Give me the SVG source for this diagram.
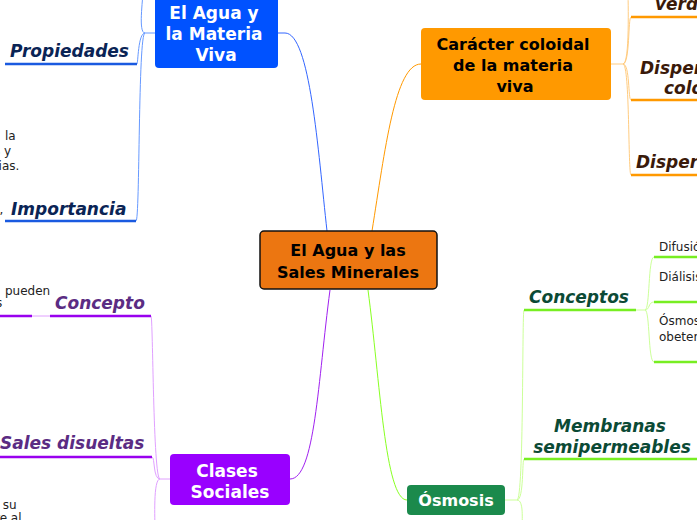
<svg xmlns="http://www.w3.org/2000/svg" width="697" height="520" viewBox="0 0 697 520">
<style>
.t{font-family:"DejaVu Sans",sans-serif;font-weight:bold;text-anchor:middle}
.s{font-family:"DejaVu Sans",sans-serif;font-weight:bold;font-style:italic;font-size:17px}
.n{font-family:"DejaVu Sans",sans-serif;font-size:12px;fill:#222}
.c{fill:none;stroke-width:1}
</style>
<rect width="697" height="520" fill="#fff"/>
<g id="connectors">
<path class="c" stroke="#3366ff" d="M327,231 C318,150 310,33 285,33 L278,33"/>
<path class="c" stroke="#ff9900" d="M372,231 C385,150 395,64 421,64"/>
<path class="c" stroke="#a020f0" d="M330,290 C318,380 315,479 290,479"/>
<path class="c" stroke="#88ff22" d="M368,290 C380,380 385,500 407,500"/>
<path class="c" stroke="#6699ff" d="M155,33 H145 C138,33 143,0 143,-10 M145,33 C138,33 138,64 137,64 M145,33 C138,33 140,221 136,221"/>
<path class="c" stroke="#e0a0ff" d="M170,479 H160 C153,479 153,316 151,316 M160,479 C153,479 155,457 152,457 M160,479 C153,479 155,520 155,530 M32,316 H50"/>
<path class="c" stroke="#ffcc80" d="M611,64 H623 C630,64 628,0 628,-10 M623,64 C630,64 628,17 631,17 M623,64 C630,64 628,100 631,100 M623,64 C630,64 628,175 631,175"/>
<path class="c" stroke="#ccff99" d="M505,500 H517 C524,500 522,310 524,310 M517,500 C524,500 522,459 524,459 M517,500 C524,500 522,520 522,530 M636,310 H645 C650,310 648,257 654,257 M645,310 C650,310 648,302 654,302 M645,310 C650,310 648,362 654,362"/>
<g stroke-width="2.5" fill="none">
<path stroke="#1a5ae0" d="M5,64 H137 M5,221 H136"/>
<path stroke="#9900ee" d="M0,316 H32 M50,316 H151 M0,457 H152"/>
<path stroke="#ff9900" d="M631,17 H697 M631,100 H697 M631,175 H697"/>
<path stroke="#77ee22" d="M524,310 H636 M524,459 H697 M654,257 H697 M654,302 H697 M654,362 H697"/>
</g>
</g>
<g id="center"><rect x="260" y="231" width="177" height="58" rx="4" fill="#ec7611" stroke="#111" stroke-width="1.5"/>
<text class="t" font-size="16" x="348" y="256">El Agua y las</text><text class="t" font-size="16" x="348" y="278">Sales Minerales</text></g>
<g id="agua"><rect x="155" y="-6" width="123" height="74" rx="4" fill="#0052ff"/>
<text class="t" font-size="17" fill="#fff" x="214" y="19">El Agua y</text><text class="t" font-size="17" fill="#fff" x="214" y="40">la Materia</text><text class="t" font-size="17" fill="#fff" x="216" y="61">Viva</text></g>
<g id="coloidal"><rect x="421" y="28" width="190" height="72" rx="4" fill="#ff9900"/>
<text class="t" font-size="16" x="513" y="50">Carácter coloidal</text><text class="t" font-size="16" x="513" y="71">de la materia</text><text class="t" font-size="16" x="515" y="92">viva</text></g>
<g id="clases"><rect x="170" y="454" width="120" height="51" rx="4" fill="#9900ff"/>
<text class="t" font-size="17" fill="#fff" x="227" y="477">Clases</text><text class="t" font-size="17" fill="#fff" x="230" y="498">Sociales</text></g>
<g id="osmosis"><rect x="407" y="485" width="98" height="30" rx="4" fill="#1b8a4c"/>
<text class="t" font-size="16" fill="#fff" x="456" y="506">Ósmosis</text></g>
<g id="propiedades"><text class="s" fill="#0a2455" x="10" y="57">Propiedades</text></g>
<g id="importancia"><text class="n" x="-14" y="214">as,</text><text class="s" fill="#0a2455" x="11" y="215">Importancia</text>
<text class="n" x="5" y="140">la</text><text class="n" x="-6" y="155">s y</text><text class="n" x="-8" y="170">cias.</text></g>
<g id="concepto"><text class="n" x="5" y="295">pueden</text><text class="n" x="-4" y="307">s</text><text class="s" fill="#5b2c83" x="55" y="309">Concepto</text></g>
<g id="sales"><text class="s" fill="#5b2c83" x="0" y="449">Sales disueltas</text><text class="n" x="-5" y="509">. su</text><text class="n" x="-5" y="522">re al</text></g>
<g id="verdadera"><text class="s" fill="#3a1a0a" x="655" y="10">verdadera</text></g>
<g id="dispcol"><text class="s" fill="#3a1a0a" x="640" y="74">Dispersión</text><text class="s" fill="#3a1a0a" x="664" y="94">coloidal</text></g>
<g id="disp"><text class="s" fill="#3a1a0a" x="636" y="168">Dispersión</text></g>
<g id="conceptos"><text class="s" fill="#0b4a35" x="529" y="303">Conceptos</text>
<text class="n" x="659" y="251">Difusión</text><text class="n" x="659" y="281">Diálisis</text><text class="n" x="659" y="325">Ósmosis</text><text class="n" x="659" y="341">obetener</text></g>
<g id="membranas"><text class="s" fill="#0b4a35" text-anchor="middle" x="610" y="432">Membranas</text><text class="s" fill="#0b4a35" text-anchor="middle" x="612" y="453">semipermeables</text></g>
</svg>
